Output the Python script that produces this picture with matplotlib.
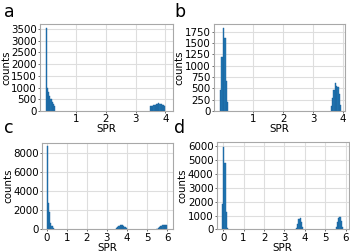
import matplotlib
matplotlib.use("Agg")
import matplotlib.pyplot as plt

# bin centres and counts
a_x = [0.01, 0.05, 0.09, 0.13, 0.17, 0.21, 0.25, 0.29,
       3.50, 3.54, 3.58, 3.62, 3.66, 3.70, 3.74, 3.78, 3.82, 3.86, 3.90, 3.94, 3.98]
a_counts = [3550, 1000, 800, 650, 520, 400, 300, 220,
            190, 200, 215, 240, 265, 290, 310, 320, 310, 295, 270, 245, 210]

b_x = [-0.078, -0.033, 0.012, 0.057, 0.102, 0.147,
       3.61, 3.655, 3.70, 3.745, 3.79, 3.835, 3.88, 3.925]
b_counts = [460, 1200, 1825, 1600, 650, 200,
            100, 280, 470, 620, 560, 520, 380, 120]

c_x = [0.03, 0.09, 0.15, 0.21, 0.27, 0.33,
       3.48, 3.54, 3.60, 3.66, 3.72, 3.78, 3.84, 3.90, 3.96,
       5.49, 5.55, 5.61, 5.67, 5.73, 5.79, 5.85, 5.91, 5.97]
c_counts = [8650, 2700, 1800, 620, 340, 120,
            90, 200, 320, 410, 450, 440, 380, 280, 150,
            60, 150, 250, 330, 390, 430, 460, 480, 420]

d_x = [-0.03, 0.03, 0.09, 0.15, 0.21,
       3.59, 3.65, 3.71, 3.77, 3.83, 3.89,
       5.54, 5.60, 5.66, 5.72, 5.78, 5.84]
d_counts = [1840, 5950, 4790, 1280, 120,
            80, 400, 780, 800, 560, 170,
            150, 520, 840, 870, 600, 200]

a_yticks = [0, 500, 1000, 1500, 2000, 2500, 3000, 3500]
b_yticks = [0, 250, 500, 750, 1000, 1250, 1500, 1750]
c_yticks = [0, 2000, 4000, 6000, 8000]
d_yticks = [0, 1000, 2000, 3000, 4000, 5000, 6000]

panels = [
    ("a", a_x, a_counts, 0.04, (-0.2, 4.25), 3720, [1, 2, 3, 4], a_yticks),
    ("b", b_x, b_counts, 0.045, (-0.31, 4.07), 1920, [1, 2, 3, 4], b_yticks),
    ("c", c_x, c_counts, 0.06, (-0.23, 6.3), 9050, [0, 1, 2, 3, 4, 5, 6], c_yticks),
    ("d", d_x, d_counts, 0.06, (-0.32, 6.16), 6350, [0, 1, 2, 3, 4, 5, 6], d_yticks),
]

# axes boxes in figure fractions: left, bottom, width, height
boxes = [
    [0.114, 0.560, 0.380, 0.345],
    [0.611, 0.560, 0.375, 0.345],
    [0.120, 0.090, 0.375, 0.344],
    [0.619, 0.090, 0.378, 0.348],
]
label_pos = [(0.012, 0.933), (0.497, 0.933), (0.012, 0.472), (0.497, 0.472)]

plt.rcParams['font.family'] = ['DejaVu Sans']
fig = plt.figure(figsize=(3.5, 2.52), dpi=100)

for (name, xs, ys, w, xlim, ytop, xt, yt), box, lp in zip(panels, boxes, label_pos):
    ax = fig.add_axes(box)
    ax.set_axisbelow(True)
    ax.grid(True, color="#dedede", linewidth=0.8)
    ax.bar(xs, ys, width=w, color="#1f77b4", edgecolor="#1b609a", linewidth=0.3)
    ax.set_xlim(*xlim)
    ax.set_ylim(0, ytop)
    ax.set_xticks(xt)
    ax.set_yticks(yt)
    for s in ax.spines.values():
        s.set_color("#a8a8a8")
        s.set_linewidth(0.8)
    ax.tick_params(labelsize=7.4, length=1.5, width=0.6, color="#555555", pad=0.8)
    ax.set_xlabel("SPR", fontsize=7.4, labelpad=0)
    ax.set_ylabel("counts", fontsize=7.4, labelpad=0)
    fig.text(lp[0], lp[1], name, fontsize=12.5, va="baseline", ha="left")

fig.savefig("out.png", dpi=100)
